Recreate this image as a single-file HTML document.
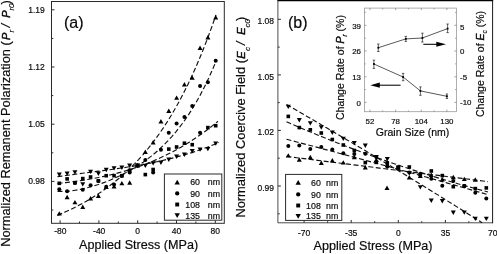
<!DOCTYPE html>
<html><head><meta charset="utf-8"><title>figure</title>
<style>
html,body{margin:0;padding:0;background:#fff;}
svg{display:block;}
text{font-family:"Liberation Sans", sans-serif;fill:#0a0a0a;stroke:#0a0a0a;stroke-width:0.18px;}
</style></head><body>
<svg width="497" height="254" viewBox="0 0 497 254">
<rect width="497" height="254" fill="#fff"/>
<rect x="51.5" y="1.5" width="172.8" height="221.8" fill="none" stroke="#2a2a2a" stroke-width="1"/>
<path d="M51.5 9.8h3" stroke="#2a2a2a" stroke-width="1"/>
<text transform="translate(44.8 12.8) scale(1.0 1)" font-size="8.5" text-anchor="end">1.19</text>
<path d="M51.5 67.0h3" stroke="#2a2a2a" stroke-width="1"/>
<text transform="translate(44.8 70.0) scale(1.0 1)" font-size="8.5" text-anchor="end">1.12</text>
<path d="M51.5 124.2h3" stroke="#2a2a2a" stroke-width="1"/>
<text transform="translate(44.8 127.2) scale(1.0 1)" font-size="8.5" text-anchor="end">1.05</text>
<path d="M51.5 181.4h3" stroke="#2a2a2a" stroke-width="1"/>
<text transform="translate(44.8 184.4) scale(1.0 1)" font-size="8.5" text-anchor="end">0.98</text>
<path d="M51.5 38.4h1.8" stroke="#2a2a2a" stroke-width="1"/>
<path d="M51.5 95.6h1.8" stroke="#2a2a2a" stroke-width="1"/>
<path d="M51.5 152.8h1.8" stroke="#2a2a2a" stroke-width="1"/>
<path d="M51.5 210.0h1.8" stroke="#2a2a2a" stroke-width="1"/>
<path d="M60.1 223.3v-3" stroke="#2a2a2a" stroke-width="1"/>
<text transform="translate(60.4 234.4) scale(1.0 1)" font-size="8.5" text-anchor="middle">-80</text>
<path d="M98.9 223.3v-3" stroke="#2a2a2a" stroke-width="1"/>
<text transform="translate(99.2 234.4) scale(1.0 1)" font-size="8.5" text-anchor="middle">-40</text>
<path d="M137.7 223.3v-3" stroke="#2a2a2a" stroke-width="1"/>
<text transform="translate(137.7 234.4) scale(1.0 1)" font-size="8.5" text-anchor="middle">0</text>
<path d="M176.5 223.3v-3" stroke="#2a2a2a" stroke-width="1"/>
<text transform="translate(176.5 234.4) scale(1.0 1)" font-size="8.5" text-anchor="middle">40</text>
<path d="M215.3 223.3v-3" stroke="#2a2a2a" stroke-width="1"/>
<text transform="translate(215.3 234.4) scale(1.0 1)" font-size="8.5" text-anchor="middle">80</text>
<path d="M79.5 223.3v-1.8" stroke="#2a2a2a" stroke-width="1"/>
<path d="M118.3 223.3v-1.8" stroke="#2a2a2a" stroke-width="1"/>
<path d="M157.1 223.3v-1.8" stroke="#2a2a2a" stroke-width="1"/>
<path d="M195.9 223.3v-1.8" stroke="#2a2a2a" stroke-width="1"/>
<text transform="translate(138.6 249.2) scale(1.0 1)" font-size="12.6" text-anchor="middle">Applied Stress (MPa)</text>
<text transform="translate(9.5 246.8) rotate(-90) scale(1.025 1)" font-size="12.5">Normalized Remanent Polarization (</text>
<text transform="translate(9.5 246.8) rotate(-90)" font-size="12.5"><tspan x="206.8" font-style="italic" stroke-width="0.45" font-size="11">P</tspan><tspan x="214.2" font-size="8" dy="4.4" font-style="italic">r</tspan><tspan x="219.6" dy="-4.4" font-style="italic">/</tspan><tspan x="229" font-style="italic" stroke-width="0.45" font-size="11">P</tspan><tspan x="236.2" font-size="8" dy="4.4" font-style="italic">r0</tspan><tspan x="242.4" dy="-4.4">)</tspan></text>
<text x="64" y="27.5" font-size="16">(a)</text>
<path d="M57.50 215.35L61.56 213.61L65.63 211.80L69.69 209.90L73.76 207.91L77.82 205.83L81.88 203.65L85.95 201.38L90.01 199.00L94.08 196.50L98.14 193.89L102.21 191.15L106.27 188.28L110.33 185.26L114.40 182.10L118.46 178.77L122.53 175.26L126.59 171.58L130.65 167.70L134.72 163.61L138.78 159.31L142.85 154.77L146.91 149.99L150.97 144.95L155.04 139.63L159.10 134.02L163.17 128.10L167.23 121.86L171.29 115.28L175.36 108.33L179.42 101.02L183.49 93.30L187.55 85.17L191.62 76.60L195.68 67.58L199.74 58.08L203.81 48.07L207.87 37.55L211.94 26.47L216.00 14.83" fill="none" stroke="#111" stroke-width="1.15" stroke-dasharray="5 2.5"/>
<path d="M57.50 191.38L61.58 191.43L65.65 191.29L69.73 190.96L73.81 190.47L77.88 189.82L81.96 189.02L86.04 188.09L90.12 187.03L94.19 185.85L98.27 184.55L102.35 183.13L106.42 181.60L110.50 179.96L114.58 178.20L118.65 176.32L122.73 174.32L126.81 172.18L130.88 169.91L134.96 167.50L139.04 164.92L143.12 162.18L147.19 159.24L151.27 156.11L155.35 152.76L159.42 149.18L163.50 145.34L167.58 141.22L171.65 136.80L175.73 132.05L179.81 126.95L183.88 121.47L187.96 115.58L192.04 109.25L196.12 102.44L200.19 95.13L204.27 87.28L208.35 78.84L212.42 69.79L216.50 60.07" fill="none" stroke="#111" stroke-width="1.15" stroke-dasharray="5 2.5"/>
<path d="M57.50 183.48L61.62 183.04L65.73 182.57L69.85 182.07L73.96 181.54L78.08 180.97L82.19 180.36L86.31 179.70L90.42 179.01L94.54 178.26L98.65 177.46L102.77 176.61L106.88 175.71L111.00 174.75L115.12 173.73L119.23 172.64L123.35 171.49L127.46 170.27L131.58 168.99L135.69 167.63L139.81 166.19L143.92 164.68L148.04 163.08L152.15 161.41L156.27 159.65L160.38 157.80L164.50 155.86L168.62 153.83L172.73 151.70L176.85 149.48L180.96 147.15L185.08 144.73L189.19 142.19L193.31 139.55L197.42 136.80L201.54 133.94L205.65 130.96L209.77 127.86L213.88 124.64L218.00 121.30" fill="none" stroke="#111" stroke-width="1.15" stroke-dasharray="5 2.5"/>
<path d="M57.50 176.69L61.64 176.10L65.78 175.51L69.92 174.94L74.06 174.39L78.21 173.84L82.35 173.30L86.49 172.76L90.63 172.22L94.77 171.68L98.91 171.14L103.05 170.59L107.19 170.03L111.33 169.47L115.47 168.88L119.62 168.28L123.76 167.67L127.90 167.03L132.04 166.36L136.18 165.68L140.32 164.96L144.46 164.21L148.60 163.42L152.74 162.60L156.88 161.74L161.03 160.84L165.17 159.90L169.31 158.90L173.45 157.86L177.59 156.77L181.73 155.62L185.87 154.42L190.01 153.16L194.15 151.83L198.29 150.44L202.44 148.99L206.58 147.46L210.72 145.87L214.86 144.20L219.00 142.45" fill="none" stroke="#111" stroke-width="1.15" stroke-dasharray="5 2.5"/>
<g fill="#000">
<path d="M56.80 172.50L61.80 172.50L59.30 176.88Z"/>
<rect x="57.50" y="181.50" width="3.60" height="3.60"/>
<circle cx="59.30" cy="189.30" r="2.0"/>
<path d="M56.80 215.60L61.80 215.60L59.30 211.22Z"/>
<path d="M64.62 171.60L69.62 171.60L67.12 175.97Z"/>
<rect x="65.32" y="177.10" width="3.60" height="3.60"/>
<circle cx="67.12" cy="191.30" r="2.0"/>
<path d="M64.62 199.20L69.62 199.20L67.12 194.82Z"/>
<path d="M72.44 170.20L77.44 170.20L74.94 174.57Z"/>
<rect x="73.14" y="180.90" width="3.60" height="3.60"/>
<circle cx="74.94" cy="183.00" r="2.0"/>
<path d="M72.44 204.30L77.44 204.30L74.94 199.93Z"/>
<path d="M80.26 182.20L85.26 182.20L82.76 186.57Z"/>
<rect x="80.96" y="176.80" width="3.60" height="3.60"/>
<circle cx="82.76" cy="189.70" r="2.0"/>
<path d="M80.26 208.90L85.26 208.90L82.76 204.53Z"/>
<path d="M88.08 169.70L93.08 169.70L90.58 174.07Z"/>
<rect x="88.78" y="175.20" width="3.60" height="3.60"/>
<circle cx="90.58" cy="185.30" r="2.0"/>
<path d="M88.08 200.50L93.08 200.50L90.58 196.12Z"/>
<path d="M95.90 171.60L100.90 171.60L98.40 175.97Z"/>
<rect x="96.60" y="179.00" width="3.60" height="3.60"/>
<circle cx="98.40" cy="181.00" r="2.0"/>
<path d="M95.90 198.00L100.90 198.00L98.40 193.62Z"/>
<path d="M103.72 167.80L108.72 167.80L106.22 172.18Z"/>
<rect x="104.42" y="173.90" width="3.60" height="3.60"/>
<circle cx="106.22" cy="186.80" r="2.0"/>
<path d="M103.72 189.00L108.72 189.00L106.22 184.62Z"/>
<path d="M111.54 166.20L116.54 166.20L114.04 170.57Z"/>
<rect x="112.24" y="173.90" width="3.60" height="3.60"/>
<circle cx="114.04" cy="184.50" r="2.0"/>
<path d="M111.54 188.40L116.54 188.40L114.04 184.03Z"/>
<path d="M119.36 165.50L124.36 165.50L121.86 169.88Z"/>
<rect x="120.06" y="173.90" width="3.60" height="3.60"/>
<circle cx="121.86" cy="176.00" r="2.0"/>
<path d="M119.36 185.30L124.36 185.30L121.86 180.93Z"/>
<path d="M127.18 163.50L132.18 163.50L129.68 167.88Z"/>
<rect x="127.88" y="168.70" width="3.60" height="3.60"/>
<circle cx="129.68" cy="172.50" r="2.0"/>
<path d="M127.18 184.70L132.18 184.70L129.68 180.32Z"/>
<path d="M135.00 163.50L140.00 163.50L137.50 167.88Z"/>
<rect x="135.70" y="163.70" width="3.60" height="3.60"/>
<circle cx="137.50" cy="165.50" r="2.0"/>
<path d="M135.00 167.50L140.00 167.50L137.50 163.12Z"/>
<path d="M142.82 163.70L147.82 163.70L145.32 168.07Z"/>
<rect x="143.52" y="172.80" width="3.60" height="3.60"/>
<circle cx="145.32" cy="160.10" r="2.0"/>
<path d="M142.82 154.00L147.82 154.00L145.32 149.62Z"/>
<path d="M150.64 161.20L155.64 161.20L153.14 165.57Z"/>
<rect x="151.34" y="167.70" width="3.60" height="3.60"/>
<circle cx="153.14" cy="172.50" r="2.0"/>
<path d="M150.64 144.40L155.64 144.40L153.14 140.03Z"/>
<path d="M158.46 160.60L163.46 160.60L160.96 164.97Z"/>
<circle cx="160.96" cy="149.80" r="2.0"/>
<path d="M158.46 123.50L163.46 123.50L160.96 119.12Z"/>
<path d="M166.28 157.50L171.28 157.50L168.78 161.88Z"/>
<rect x="166.98" y="147.30" width="3.60" height="3.60"/>
<circle cx="168.78" cy="132.80" r="2.0"/>
<path d="M166.28 113.00L171.28 113.00L168.78 108.62Z"/>
<path d="M174.10 154.50L179.10 154.50L176.60 158.88Z"/>
<rect x="174.80" y="145.20" width="3.60" height="3.60"/>
<circle cx="176.60" cy="123.60" r="2.0"/>
<path d="M174.10 99.75L179.10 99.75L176.60 95.38Z"/>
<path d="M181.92 152.50L186.92 152.50L184.42 156.88Z"/>
<rect x="182.62" y="141.40" width="3.60" height="3.60"/>
<circle cx="184.42" cy="116.90" r="2.0"/>
<path d="M181.92 86.50L186.92 86.50L184.42 82.12Z"/>
<path d="M189.74 149.00L194.74 149.00L192.24 153.38Z"/>
<rect x="190.44" y="142.90" width="3.60" height="3.60"/>
<circle cx="192.24" cy="106.00" r="2.0"/>
<path d="M189.74 79.75L194.74 79.75L192.24 75.38Z"/>
<path d="M197.56 147.40L202.56 147.40L200.06 151.78Z"/>
<circle cx="200.06" cy="132.70" r="2.0"/>
<circle cx="200.06" cy="86.00" r="2.0"/>
<path d="M197.56 50.00L202.56 50.00L200.06 45.62Z"/>
<path d="M205.38 146.90L210.38 146.90L207.88 151.28Z"/>
<rect x="206.08" y="125.80" width="3.60" height="3.60"/>
<circle cx="207.88" cy="82.25" r="2.0"/>
<path d="M205.38 39.50L210.38 39.50L207.88 35.12Z"/>
<path d="M213.20 141.40L218.20 141.40L215.70 145.78Z"/>
<rect x="213.90" y="123.90" width="3.60" height="3.60"/>
<circle cx="215.70" cy="60.75" r="2.0"/>
<path d="M213.20 19.50L218.20 19.50L215.70 15.12Z"/>
</g>
<rect x="164.4" y="174" width="57.4" height="46.2" fill="#fff" stroke="#2a2a2a" stroke-width="1"/>
<g fill="#000">
<path d="M174.50 184.46L179.90 184.46L177.20 179.74Z"/>
<circle cx="177.20" cy="193.40" r="2.15"/>
<rect x="175.25" y="202.55" width="3.90" height="3.90"/>
<path d="M174.50 213.24L179.90 213.24L177.20 217.97Z"/>
</g>
<text x="200" y="185.4" font-size="8.8" text-anchor="end">60</text>
<text x="207.8" y="185.4" font-size="8.8">nm</text>
<text x="200" y="196.5" font-size="8.8" text-anchor="end">90</text>
<text x="207.8" y="196.5" font-size="8.8">nm</text>
<text x="200" y="207.6" font-size="8.8" text-anchor="end">108</text>
<text x="207.8" y="207.6" font-size="8.8">nm</text>
<text x="200" y="218.5" font-size="8.8" text-anchor="end">135</text>
<text x="207.8" y="218.5" font-size="8.8">nm</text>
<path d="M277.9 0.5V222.8H492.6" fill="none" stroke="#3a3a3a" stroke-width="0.9"/>
<path d="M277.4 0.5H493.20000000000005" stroke="#000" stroke-width="1.4"/>
<path d="M492.6 0.5V223.3" stroke="#1a1a1a" stroke-width="1"/>
<path d="M277.9 19.3h3" stroke="#2a2a2a" stroke-width="1"/>
<text transform="translate(274 24.3) scale(1.0 1)" font-size="8.5" text-anchor="end">1.08</text>
<path d="M277.9 74.9h3" stroke="#2a2a2a" stroke-width="1"/>
<text transform="translate(274 79.9) scale(1.0 1)" font-size="8.5" text-anchor="end">1.05</text>
<path d="M277.9 130.4h3" stroke="#2a2a2a" stroke-width="1"/>
<text transform="translate(274 135.4) scale(1.0 1)" font-size="8.5" text-anchor="end">1.02</text>
<path d="M277.9 186.0h3" stroke="#2a2a2a" stroke-width="1"/>
<text transform="translate(274 191.0) scale(1.0 1)" font-size="8.5" text-anchor="end">0.99</text>
<path d="M277.9 47.1h1.8" stroke="#2a2a2a" stroke-width="1"/>
<path d="M277.9 102.6h1.8" stroke="#2a2a2a" stroke-width="1"/>
<path d="M277.9 158.2h1.8" stroke="#2a2a2a" stroke-width="1"/>
<path d="M277.9 213.8h1.8" stroke="#2a2a2a" stroke-width="1"/>
<path d="M304.1 222.8v-2.8" stroke="#2a2a2a" stroke-width="1"/>
<text x="304.1" y="235.8" font-size="8.5" text-anchor="middle">-70</text>
<path d="M351.2 222.8v-2.8" stroke="#2a2a2a" stroke-width="1"/>
<text x="351.2" y="235.8" font-size="8.5" text-anchor="middle">-35</text>
<path d="M398.3 222.8v-2.8" stroke="#2a2a2a" stroke-width="1"/>
<text x="398.3" y="235.8" font-size="8.5" text-anchor="middle">0</text>
<path d="M445.4 222.8v-2.8" stroke="#2a2a2a" stroke-width="1"/>
<text x="445.4" y="235.8" font-size="8.5" text-anchor="middle">35</text>
<path d="M492.5 222.8v-2.8" stroke="#2a2a2a" stroke-width="1"/>
<text x="492.8" y="235.8" font-size="8.5" text-anchor="middle">70</text>
<path d="M327.6 222.8v-1.6" stroke="#2a2a2a" stroke-width="1"/>
<path d="M374.7 222.8v-1.6" stroke="#2a2a2a" stroke-width="1"/>
<path d="M421.8 222.8v-1.6" stroke="#2a2a2a" stroke-width="1"/>
<path d="M468.9 222.8v-1.6" stroke="#2a2a2a" stroke-width="1"/>
<text transform="translate(373 250.3) scale(1.0 1)" font-size="12.6" text-anchor="middle">Applied Stress (MPa)</text>
<text transform="translate(245.4 217.6) rotate(-90) scale(1.029 1)" font-size="12.5">Normalized Coercive Field (</text>
<text transform="translate(245.4 217.6) rotate(-90)" font-size="12.5"><tspan x="158.8" font-style="italic" stroke-width="0.45" font-size="11">E</tspan><tspan x="166.6" font-size="8" dy="4.4" font-style="italic">c</tspan><tspan x="172.6" dy="-4.4" font-style="italic">/</tspan><tspan x="182.8" font-style="italic" stroke-width="0.45" font-size="11">E</tspan><tspan x="190.2" font-size="8" dy="4.4" font-style="italic">c0</tspan><tspan x="196.6" dy="-4.4">)</tspan></text>
<text x="288" y="28" font-size="16">(b)</text>
<path d="M286.50 104.58L291.51 107.46L296.53 110.35L301.54 113.24L306.55 116.15L311.56 119.06L316.58 121.98L321.59 124.90L326.60 127.84L331.62 130.78L336.63 133.73L341.64 136.69L346.65 139.66L351.67 142.63L356.68 145.61L361.69 148.60L366.71 151.60L371.72 154.60L376.73 157.61L381.74 160.64L386.76 163.66L391.77 166.70L396.78 169.74L401.79 172.79L406.81 175.85L411.82 178.92L416.83 181.99L421.85 185.08L426.86 188.17L431.87 191.26L436.88 194.37L441.90 197.48L446.91 200.60L451.92 203.73L456.94 206.87L461.95 210.01L466.96 213.17L471.97 216.33L476.99 219.49L482.00 222.67" fill="none" stroke="#111" stroke-width="1.15" stroke-dasharray="5 2.5"/>
<path d="M286.50 121.82L291.67 124.06L296.83 126.28L302.00 128.47L307.17 130.64L312.33 132.79L317.50 134.91L322.67 137.01L327.83 139.09L333.00 141.14L338.17 143.17L343.33 145.18L348.50 147.16L353.67 149.12L358.83 151.06L364.00 152.97L369.17 154.86L374.33 156.73L379.50 158.58L384.67 160.40L389.83 162.19L395.00 163.97L400.17 165.72L405.33 167.45L410.50 169.16L415.67 170.84L420.83 172.50L426.00 174.13L431.17 175.75L436.33 177.33L441.50 178.90L446.67 180.44L451.83 181.96L457.00 183.46L462.17 184.93L467.33 186.38L472.50 187.81L477.67 189.21L482.83 190.59L488.00 191.95" fill="none" stroke="#111" stroke-width="1.15" stroke-dasharray="5 2.5"/>
<path d="M286.50 139.27L291.67 140.62L296.83 141.98L302.00 143.33L307.17 144.70L312.33 146.06L317.50 147.43L322.67 148.80L327.83 150.18L333.00 151.56L338.17 152.94L343.33 154.33L348.50 155.72L353.67 157.12L358.83 158.51L364.00 159.92L369.17 161.32L374.33 162.73L379.50 164.14L384.67 165.56L389.83 166.98L395.00 168.40L400.17 169.83L405.33 171.26L410.50 172.70L415.67 174.14L420.83 175.58L426.00 177.02L431.17 178.47L436.33 179.93L441.50 181.38L446.67 182.84L451.83 184.31L457.00 185.77L462.17 187.25L467.33 188.72L472.50 190.20L477.67 191.68L482.83 193.17L488.00 194.66" fill="none" stroke="#111" stroke-width="1.15" stroke-dasharray="5 2.5"/>
<path d="M286.50 156.44L291.67 157.08L296.83 157.73L302.00 158.37L307.17 159.02L312.33 159.67L317.50 160.31L322.67 160.96L327.83 161.60L333.00 162.25L338.17 162.90L343.33 163.54L348.50 164.19L353.67 164.84L358.83 165.48L364.00 166.13L369.17 166.77L374.33 167.42L379.50 168.07L384.67 168.71L389.83 169.36L395.00 170.01L400.17 170.65L405.33 171.30L410.50 171.94L415.67 172.59L420.83 173.24L426.00 173.88L431.17 174.53L436.33 175.17L441.50 175.82L446.67 176.47L451.83 177.11L457.00 177.76L462.17 178.41L467.33 179.05L472.50 179.70L477.67 180.34L482.83 180.99L488.00 181.64" fill="none" stroke="#111" stroke-width="1.15" stroke-dasharray="5 2.5"/>
<g fill="#000">
<path d="M285.80 104.70L290.80 104.70L288.30 109.08Z"/>
<rect x="286.50" y="114.60" width="3.60" height="3.60"/>
<circle cx="288.30" cy="146.10" r="2.0"/>
<path d="M285.80 157.60L290.80 157.60L288.30 153.22Z"/>
<path d="M296.80 118.00L301.80 118.00L299.30 122.38Z"/>
<rect x="297.50" y="125.80" width="3.60" height="3.60"/>
<circle cx="299.30" cy="145.60" r="2.0"/>
<path d="M296.80 161.70L301.80 161.70L299.30 157.32Z"/>
<path d="M307.80 121.20L312.80 121.20L310.30 125.58Z"/>
<rect x="308.50" y="128.00" width="3.60" height="3.60"/>
<circle cx="310.30" cy="149.10" r="2.0"/>
<path d="M307.80 159.20L312.80 159.20L310.30 154.82Z"/>
<path d="M318.80 125.30L323.80 125.30L321.30 129.68Z"/>
<rect x="319.50" y="131.20" width="3.60" height="3.60"/>
<circle cx="321.30" cy="147.10" r="2.0"/>
<path d="M318.80 164.90L323.80 164.90L321.30 160.53Z"/>
<path d="M329.80 130.60L334.80 130.60L332.30 134.97Z"/>
<rect x="330.50" y="137.70" width="3.60" height="3.60"/>
<circle cx="332.30" cy="149.60" r="2.0"/>
<path d="M329.80 162.40L334.80 162.40L332.30 158.03Z"/>
<path d="M340.80 136.70L345.80 136.70L343.30 141.07Z"/>
<rect x="341.50" y="143.20" width="3.60" height="3.60"/>
<circle cx="343.30" cy="153.20" r="2.0"/>
<path d="M340.80 164.60L345.80 164.60L343.30 160.22Z"/>
<path d="M351.80 140.90L356.80 140.90L354.30 145.28Z"/>
<rect x="352.50" y="148.70" width="3.60" height="3.60"/>
<circle cx="354.30" cy="154.00" r="2.0"/>
<path d="M351.80 159.30L356.80 159.30L354.30 154.93Z"/>
<path d="M362.80 143.60L367.80 143.60L365.30 147.97Z"/>
<rect x="363.50" y="160.80" width="3.60" height="3.60"/>
<circle cx="365.30" cy="153.80" r="2.0"/>
<path d="M362.80 169.50L367.80 169.50L365.30 165.12Z"/>
<path d="M373.80 155.00L378.80 155.00L376.30 159.38Z"/>
<rect x="374.50" y="160.60" width="3.60" height="3.60"/>
<circle cx="376.30" cy="157.00" r="2.0"/>
<path d="M373.80 162.00L378.80 162.00L376.30 157.62Z"/>
<path d="M384.80 157.00L389.80 157.00L387.30 161.38Z"/>
<rect x="385.50" y="161.20" width="3.60" height="3.60"/>
<circle cx="387.30" cy="166.40" r="2.0"/>
<path d="M384.80 167.00L389.80 167.00L387.30 162.62Z"/>
<path d="M395.80 165.50L400.80 165.50L398.30 169.88Z"/>
<rect x="396.50" y="165.70" width="3.60" height="3.60"/>
<circle cx="398.30" cy="167.50" r="2.0"/>
<path d="M395.80 169.50L400.80 169.50L398.30 165.12Z"/>
<path d="M406.80 171.00L411.80 171.00L409.30 175.38Z"/>
<rect x="407.50" y="165.20" width="3.60" height="3.60"/>
<circle cx="409.30" cy="172.50" r="2.0"/>
<path d="M406.80 179.40L411.80 179.40L409.30 175.03Z"/>
<path d="M417.80 185.20L422.80 185.20L420.30 189.57Z"/>
<rect x="418.50" y="172.70" width="3.60" height="3.60"/>
<circle cx="420.30" cy="174.00" r="2.0"/>
<path d="M417.80 178.00L422.80 178.00L420.30 173.62Z"/>
<path d="M428.80 198.50L433.80 198.50L431.30 202.88Z"/>
<rect x="429.50" y="169.20" width="3.60" height="3.60"/>
<circle cx="431.30" cy="178.80" r="2.0"/>
<path d="M428.80 176.90L433.80 176.90L431.30 172.53Z"/>
<path d="M439.80 199.00L444.80 199.00L442.30 203.38Z"/>
<rect x="440.50" y="173.80" width="3.60" height="3.60"/>
<circle cx="442.30" cy="185.80" r="2.0"/>
<path d="M439.80 181.40L444.80 181.40L442.30 177.03Z"/>
<path d="M450.80 210.60L455.80 210.60L453.30 214.97Z"/>
<rect x="451.50" y="184.90" width="3.60" height="3.60"/>
<circle cx="453.30" cy="181.00" r="2.0"/>
<path d="M450.80 179.20L455.80 179.20L453.30 174.82Z"/>
<path d="M461.80 210.40L466.80 210.40L464.30 214.78Z"/>
<rect x="462.50" y="184.20" width="3.60" height="3.60"/>
<circle cx="464.30" cy="186.00" r="2.0"/>
<path d="M461.80 181.10L466.80 181.10L464.30 176.72Z"/>
<path d="M472.80 216.70L477.80 216.70L475.30 221.07Z"/>
<rect x="473.50" y="186.80" width="3.60" height="3.60"/>
<circle cx="475.30" cy="192.80" r="2.0"/>
<path d="M472.80 181.70L477.80 181.70L475.30 177.32Z"/>
<path d="M483.80 216.70L488.80 216.70L486.30 221.07Z"/>
<rect x="484.50" y="186.10" width="3.60" height="3.60"/>
<circle cx="486.30" cy="198.60" r="2.0"/>
<path d="M384.50 190.00L389.50 190.00L387.00 185.62Z"/>
</g>
<rect x="285.6" y="174.4" width="56.2" height="46" fill="#fff" stroke="#2a2a2a" stroke-width="1"/>
<g fill="#000">
<path d="M295.50 184.76L300.90 184.76L298.20 180.03Z"/>
<circle cx="298.20" cy="194.40" r="2.15"/>
<rect x="296.25" y="203.55" width="3.90" height="3.90"/>
<path d="M295.50 214.04L300.90 214.04L298.20 218.76Z"/>
</g>
<text x="320.8" y="185.7" font-size="8.8" text-anchor="end">60</text>
<text x="326" y="185.7" font-size="8.8">nm</text>
<text x="320.8" y="197.5" font-size="8.8" text-anchor="end">90</text>
<text x="326" y="197.5" font-size="8.8">nm</text>
<text x="320.8" y="208.6" font-size="8.8" text-anchor="end">108</text>
<text x="326" y="208.6" font-size="8.8">nm</text>
<text x="320.8" y="219.3" font-size="8.8" text-anchor="end">135</text>
<text x="326" y="219.3" font-size="8.8">nm</text>
<rect x="364.5" y="8.1" width="91.89999999999998" height="103.60000000000001" fill="#fff" stroke="#9a9a9a" stroke-width="0.8"/>
<path d="M364.5 25.3h2" stroke="#777" stroke-width="0.7"/>
<path d="M456.4 25.3h-2" stroke="#777" stroke-width="0.7"/>
<text x="361" y="28.6" font-size="7.9" text-anchor="end">39</text>
<path d="M364.5 51.0h2" stroke="#777" stroke-width="0.7"/>
<path d="M456.4 51.0h-2" stroke="#777" stroke-width="0.7"/>
<text x="361" y="54.3" font-size="7.9" text-anchor="end">26</text>
<path d="M364.5 76.8h2" stroke="#777" stroke-width="0.7"/>
<path d="M456.4 76.8h-2" stroke="#777" stroke-width="0.7"/>
<text x="361" y="80.1" font-size="7.9" text-anchor="end">13</text>
<path d="M364.5 102.4h2" stroke="#777" stroke-width="0.7"/>
<path d="M456.4 102.4h-2" stroke="#777" stroke-width="0.7"/>
<text x="361" y="105.7" font-size="7.9" text-anchor="end">0</text>
<text x="460" y="29.9" font-size="7.9">5</text>
<text x="460" y="53.9" font-size="7.9">0</text>
<text x="460" y="79.7" font-size="7.9">-5</text>
<text x="460" y="104.9" font-size="7.9">-10</text>
<path d="M364.5 12.4h1.3" stroke="#777" stroke-width="0.7"/>
<path d="M456.4 12.4h-1.3" stroke="#777" stroke-width="0.7"/>
<path d="M364.5 38.2h1.3" stroke="#777" stroke-width="0.7"/>
<path d="M456.4 38.2h-1.3" stroke="#777" stroke-width="0.7"/>
<path d="M364.5 63.9h1.3" stroke="#777" stroke-width="0.7"/>
<path d="M456.4 63.9h-1.3" stroke="#777" stroke-width="0.7"/>
<path d="M364.5 89.6h1.3" stroke="#777" stroke-width="0.7"/>
<path d="M456.4 89.6h-1.3" stroke="#777" stroke-width="0.7"/>
<path d="M370.0 111.7v-2" stroke="#777" stroke-width="0.7"/>
<path d="M370.0 8.1v2" stroke="#777" stroke-width="0.7"/>
<text x="370.0" y="123.6" font-size="7.9" text-anchor="middle">52</text>
<path d="M395.6 111.7v-2" stroke="#777" stroke-width="0.7"/>
<path d="M395.6 8.1v2" stroke="#777" stroke-width="0.7"/>
<text x="395.6" y="123.6" font-size="7.9" text-anchor="middle">78</text>
<path d="M421.3 111.7v-2" stroke="#777" stroke-width="0.7"/>
<path d="M421.3 8.1v2" stroke="#777" stroke-width="0.7"/>
<text x="421.3" y="123.6" font-size="7.9" text-anchor="middle">104</text>
<path d="M446.9 111.7v-2" stroke="#777" stroke-width="0.7"/>
<path d="M446.9 8.1v2" stroke="#777" stroke-width="0.7"/>
<text x="446.9" y="123.6" font-size="7.9" text-anchor="middle">130</text>
<path d="M382.8 111.7v-1.3" stroke="#777" stroke-width="0.7"/>
<path d="M382.8 8.1v1.3" stroke="#777" stroke-width="0.7"/>
<path d="M408.4 111.7v-1.3" stroke="#777" stroke-width="0.7"/>
<path d="M408.4 8.1v1.3" stroke="#777" stroke-width="0.7"/>
<path d="M434.1 111.7v-1.3" stroke="#777" stroke-width="0.7"/>
<path d="M434.1 8.1v1.3" stroke="#777" stroke-width="0.7"/>
<text x="412.6" y="136.3" font-size="10.5" text-anchor="middle">Grain Size (nm)</text>
<text transform="translate(344 120) rotate(-90)" font-size="10.5">Change Rate of <tspan font-style="italic" stroke-width="0.4">P</tspan><tspan font-size="6.5" dy="2.5" font-style="italic">r</tspan><tspan dy="-2.5"> (%)</tspan></text>
<text transform="translate(484 117) rotate(-90)" font-size="10.5">Change Rate of <tspan font-style="italic" stroke-width="0.4">E</tspan><tspan font-size="6.5" dy="2.5" font-style="italic">c</tspan><tspan dy="-2.5"> (%)</tspan></text>
<path d="M378.3 47.7L405.8 38.9L422.4 38L447.6 28.6" fill="none" stroke="#111" stroke-width="0.7"/>
<path d="M378.3 44V51.5M377.1 44h2.4M377.1 51.5h2.4" fill="none" stroke="#222" stroke-width="0.7"/>
<rect x="377.40000000000003" y="46.800000000000004" width="1.8" height="1.8" fill="#000"/>
<path d="M405.8 36.4V41.4M404.6 36.4h2.4M404.6 41.4h2.4" fill="none" stroke="#222" stroke-width="0.7"/>
<rect x="404.90000000000003" y="38.0" width="1.8" height="1.8" fill="#000"/>
<path d="M422.4 33.2V42M421.2 33.2h2.4M421.2 42h2.4" fill="none" stroke="#222" stroke-width="0.7"/>
<rect x="421.5" y="37.1" width="1.8" height="1.8" fill="#000"/>
<path d="M447.6 24V32.6M446.40000000000003 24h2.4M446.40000000000003 32.6h2.4" fill="none" stroke="#222" stroke-width="0.7"/>
<rect x="446.70000000000005" y="27.700000000000003" width="1.8" height="1.8" fill="#000"/>
<path d="M373.9 64L403.1 77L420.4 90.9L446.9 96.3" fill="none" stroke="#111" stroke-width="0.7"/>
<path d="M373.9 60.2V68.4M372.7 60.2h2.4M372.7 68.4h2.4" fill="none" stroke="#222" stroke-width="0.7"/>
<rect x="373.0" y="63.1" width="1.8" height="1.8" fill="#000"/>
<path d="M403.1 73.4V80.7M401.90000000000003 73.4h2.4M401.90000000000003 80.7h2.4" fill="none" stroke="#222" stroke-width="0.7"/>
<rect x="402.20000000000005" y="76.1" width="1.8" height="1.8" fill="#000"/>
<path d="M420.4 86.9V95.3M419.2 86.9h2.4M419.2 95.3h2.4" fill="none" stroke="#222" stroke-width="0.7"/>
<rect x="419.5" y="90.0" width="1.8" height="1.8" fill="#000"/>
<path d="M446.9 94V98.5M445.7 94h2.4M445.7 98.5h2.4" fill="none" stroke="#222" stroke-width="0.7"/>
<rect x="446.0" y="95.39999999999999" width="1.8" height="1.8" fill="#000"/>
<path d="M423.3 44.3H438" stroke="#000" stroke-width="1.05"/><path d="M446 44.3L436.3 41.8V46.8Z" fill="#000"/>
<path d="M400.6 85.2H379" stroke="#000" stroke-width="1.05"/><path d="M370.3 85.2L379.8 82.6V87.8Z" fill="#000"/>
</svg>
</body></html>
